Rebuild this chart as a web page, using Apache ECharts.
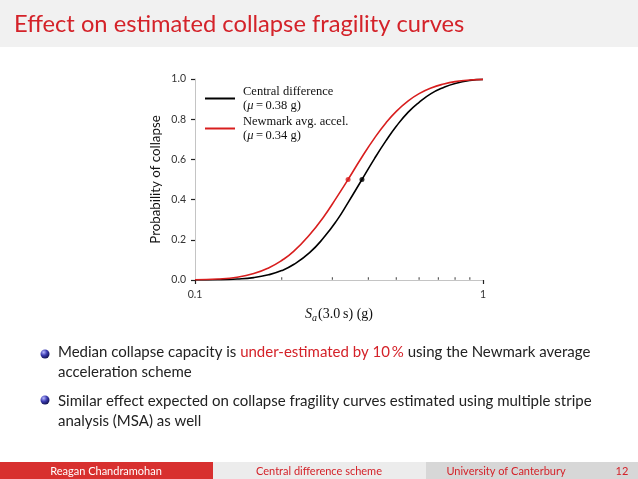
<!DOCTYPE html>
<html>
<head>
<meta charset="utf-8">
<script src="https://cdn.jsdelivr.net/npm/echarts@6/dist/echarts.min.js"></script>
<style>
html,body{margin:0;padding:0;background:#fff;}
#c{width:638px;height:479px;}
</style>
</head>
<body>
<div id="c"></div>
<script>
// ---- data ----
const sa = [0.1, 0.12, 0.14, 0.16, 0.18, 0.2, 0.22, 0.25, 0.28, 0.31, 0.34, 0.38, 0.42, 0.46, 0.5, 0.55, 0.6, 0.66, 0.73, 0.8, 0.9, 1.0];
const centralDiff = [0.0003, 0.0015, 0.005, 0.012, 0.026, 0.047, 0.077, 0.136, 0.211, 0.294, 0.385, 0.5, 0.604, 0.692, 0.765, 0.835, 0.884, 0.927, 0.958, 0.978, 0.993, 0.998];
const newmark    = [0.001, 0.005, 0.014, 0.032, 0.06, 0.097, 0.142, 0.225, 0.315, 0.41, 0.5, 0.612, 0.706, 0.781, 0.839, 0.891, 0.927, 0.955, 0.975, 0.987, 0.995, 0.998];
const medians = [0.38, 0.34];          // central difference, Newmark
const medianProb = [0.5, 0.5];
const seriesNames = ['Central difference', 'Newmark avg. accel.'];
const medianText = ['0.38 g', '0.34 g'];
const minorXTicks = [0.2, 0.3, 0.4, 0.5, 0.6, 0.7, 0.8, 0.9];

const RED = '#d81e1e';
const TITLE_RED = '#d42229';
const SANS = 'Lato, "Open Sans", sans-serif';
const SERIF = '"Liberation Serif", "DejaVu Serif", serif';

const pair = (xs, ys) => xs.map((x, i) => [x, ys[i]]);

const chart = echarts.init(document.getElementById('c'), null, {renderer: 'canvas'});

function ball(cx, cy) {
  return {
    type: 'circle', shape: {cx: cx, cy: cy, r: 4.5}, silent: true,
    style: {
      fill: new echarts.graphic.RadialGradient(0.35, 0.3, 0.75, [
        {offset: 0, color: '#b8b8ff'},
        {offset: 0.5, color: '#3a3ab0'},
        {offset: 1, color: '#10104a'}
      ])
    }
  };
}

const option = {
  animation: false,
  backgroundColor: '#ffffff',
  grid: {left: 195, right: 155, top: 79, bottom: 199, containLabel: false},
  legend: {
    data: seriesNames,
    orient: 'vertical',
    left: 205, top: 84, padding: 0,
    itemWidth: 30, itemHeight: 2, itemGap: 1,
    icon: 'rect',
    formatter: function (name) {
      return '{t|' + name + '}\n{t|(}{m|\u03bc}{t|\u2009=\u2009' + medianText[seriesNames.indexOf(name)] + ')}';
    },
    textStyle: {
      fontFamily: SERIF, fontSize: 12.5, color: '#111', lineHeight: 14.5, padding: [0, 0, 0, 3],
      rich: {
        t: {fontFamily: SERIF, fontSize: 12.5, color: '#111', lineHeight: 14.5},
        m: {fontFamily: SERIF, fontStyle: 'italic', fontSize: 12.5, color: '#111', lineHeight: 14.5}
      }
    }
  },
  xAxis: {
    type: 'log', logBase: 10, min: 0.1, max: 1,
    name: '{i|S}{s|a}{n|(3.0\u2009s) (g)}',
    nameLocation: 'middle', nameGap: 26,
    nameTextStyle: {
      rich: {
        i: {fontFamily: SERIF, fontStyle: 'italic', fontSize: 14, color: '#111'},
        s: {fontFamily: SERIF, fontStyle: 'italic', fontSize: 10, color: '#111', padding: [7, 1, 0, 0]},
        n: {fontFamily: SERIF, fontSize: 14, color: '#111'}
      }
    },
    axisLine: {show: true, lineStyle: {color: '#c4c4c4', width: 1}},
    axisTick: {show: true, inside: false, length: 4, lineStyle: {color: '#222', width: 1.2}},
    axisLabel: {fontFamily: SANS, fontSize: 10.5, color: '#333', margin: 9,
      formatter: function (v) { return String(v); }},
    splitLine: {show: false},
    minorTick: {show: false}
  },
  yAxis: {
    type: 'value', min: 0, max: 1, interval: 0.2,
    name: 'Probability of collapse',
    nameLocation: 'middle', nameRotate: 90, nameGap: 33,
    nameTextStyle: {fontFamily: SANS, fontSize: 13.3, color: '#111'},
    axisLine: {show: true, lineStyle: {color: '#c4c4c4', width: 1}},
    axisTick: {show: true, inside: false, length: 4, lineStyle: {color: '#222', width: 1.2}},
    axisLabel: {fontFamily: SANS, fontSize: 10.5, color: '#333', margin: 9,
      formatter: function (v) { return v.toFixed(1); }},
    splitLine: {show: false}
  },
  series: [
    {
      name: seriesNames[0], type: 'line', smooth: 0.5, showSymbol: false, symbol: 'none',
      data: pair(sa, centralDiff), color: '#000',
      lineStyle: {color: '#000', width: 1.6}, z: 3
    },
    {
      name: seriesNames[1], type: 'line', smooth: 0.5, showSymbol: false, symbol: 'none',
      data: pair(sa, newmark), color: RED,
      lineStyle: {color: RED, width: 1.6}, z: 3
    },
    {
      name: 'median-cd', type: 'scatter', symbol: 'circle', symbolSize: 5,
      data: [[medians[0], medianProb[0]]], itemStyle: {color: '#000'}, z: 4, silent: true
    },
    {
      name: 'median-nm', type: 'scatter', symbol: 'circle', symbolSize: 5,
      data: [[medians[1], medianProb[1]]], itemStyle: {color: RED}, z: 4, silent: true
    },
    {
      name: 'minor-ticks', type: 'scatter', symbol: 'rect', symbolSize: [1.2, 2.5],
      symbolOffset: [0, -1.5],
      data: minorXTicks.map(v => [v, 0]), itemStyle: {color: '#333'}, z: 2, silent: true
    }
  ],
  graphic: [
    {type: 'rect', shape: {x: 0, y: 0, width: 638, height: 47}, style: {fill: '#f1f1f1'}, silent: true, z: -1},
    {type: 'text', left: 14, top: 12, silent: true,
      style: {text: 'Effect on estimated collapse fragility curves', fontFamily: SANS, fontSize: 23.7, fill: TITLE_RED}},
    ball(45, 354),
    {type: 'text', left: 58, top: 345, silent: true,
      style: {
        text: '{k|Median collapse capacity is }{r|under-estimated by 10\u2009%}{k| using the Newmark average}\n{k|acceleration scheme}',
        rich: {
          k: {fontFamily: SANS, fontSize: 15, fill: '#222', lineHeight: 20},
          r: {fontFamily: SANS, fontSize: 15, fill: TITLE_RED, lineHeight: 20}
        }
      }},
    ball(45, 400),
    {type: 'text', left: 58, top: 391, silent: true,
      style: {
        text: 'Similar effect expected on collapse fragility curves estimated using multiple stripe\nanalysis (MSA) as well',
        fontFamily: SANS, fontSize: 15, fill: '#222', lineHeight: 20
      }},
    {type: 'rect', shape: {x: 0, y: 462, width: 213, height: 17}, style: {fill: '#d8302f'}, silent: true},
    {type: 'rect', shape: {x: 213, y: 462, width: 213, height: 17}, style: {fill: '#ececec'}, silent: true},
    {type: 'rect', shape: {x: 426, y: 462, width: 212, height: 17}, style: {fill: '#d7d7d7'}, silent: true},
    {type: 'text', x: 106, y: 471, silent: true,
      style: {text: 'Reagan Chandramohan', fontFamily: SANS, fontSize: 11, fill: '#ffffff', align: 'center', verticalAlign: 'middle'}},
    {type: 'text', x: 319, y: 471, silent: true,
      style: {text: 'Central difference scheme', fontFamily: SANS, fontSize: 11, fill: TITLE_RED, align: 'center', verticalAlign: 'middle'}},
    {type: 'text', x: 506, y: 471, silent: true,
      style: {text: 'University of Canterbury', fontFamily: SANS, fontSize: 11, fill: TITLE_RED, align: 'center', verticalAlign: 'middle'}},
    {type: 'text', x: 622, y: 471, silent: true,
      style: {text: '12', fontFamily: SANS, fontSize: 11, fill: TITLE_RED, align: 'center', verticalAlign: 'middle'}}
  ]
};
chart.setOption(option);
</script>
</body>
</html>
